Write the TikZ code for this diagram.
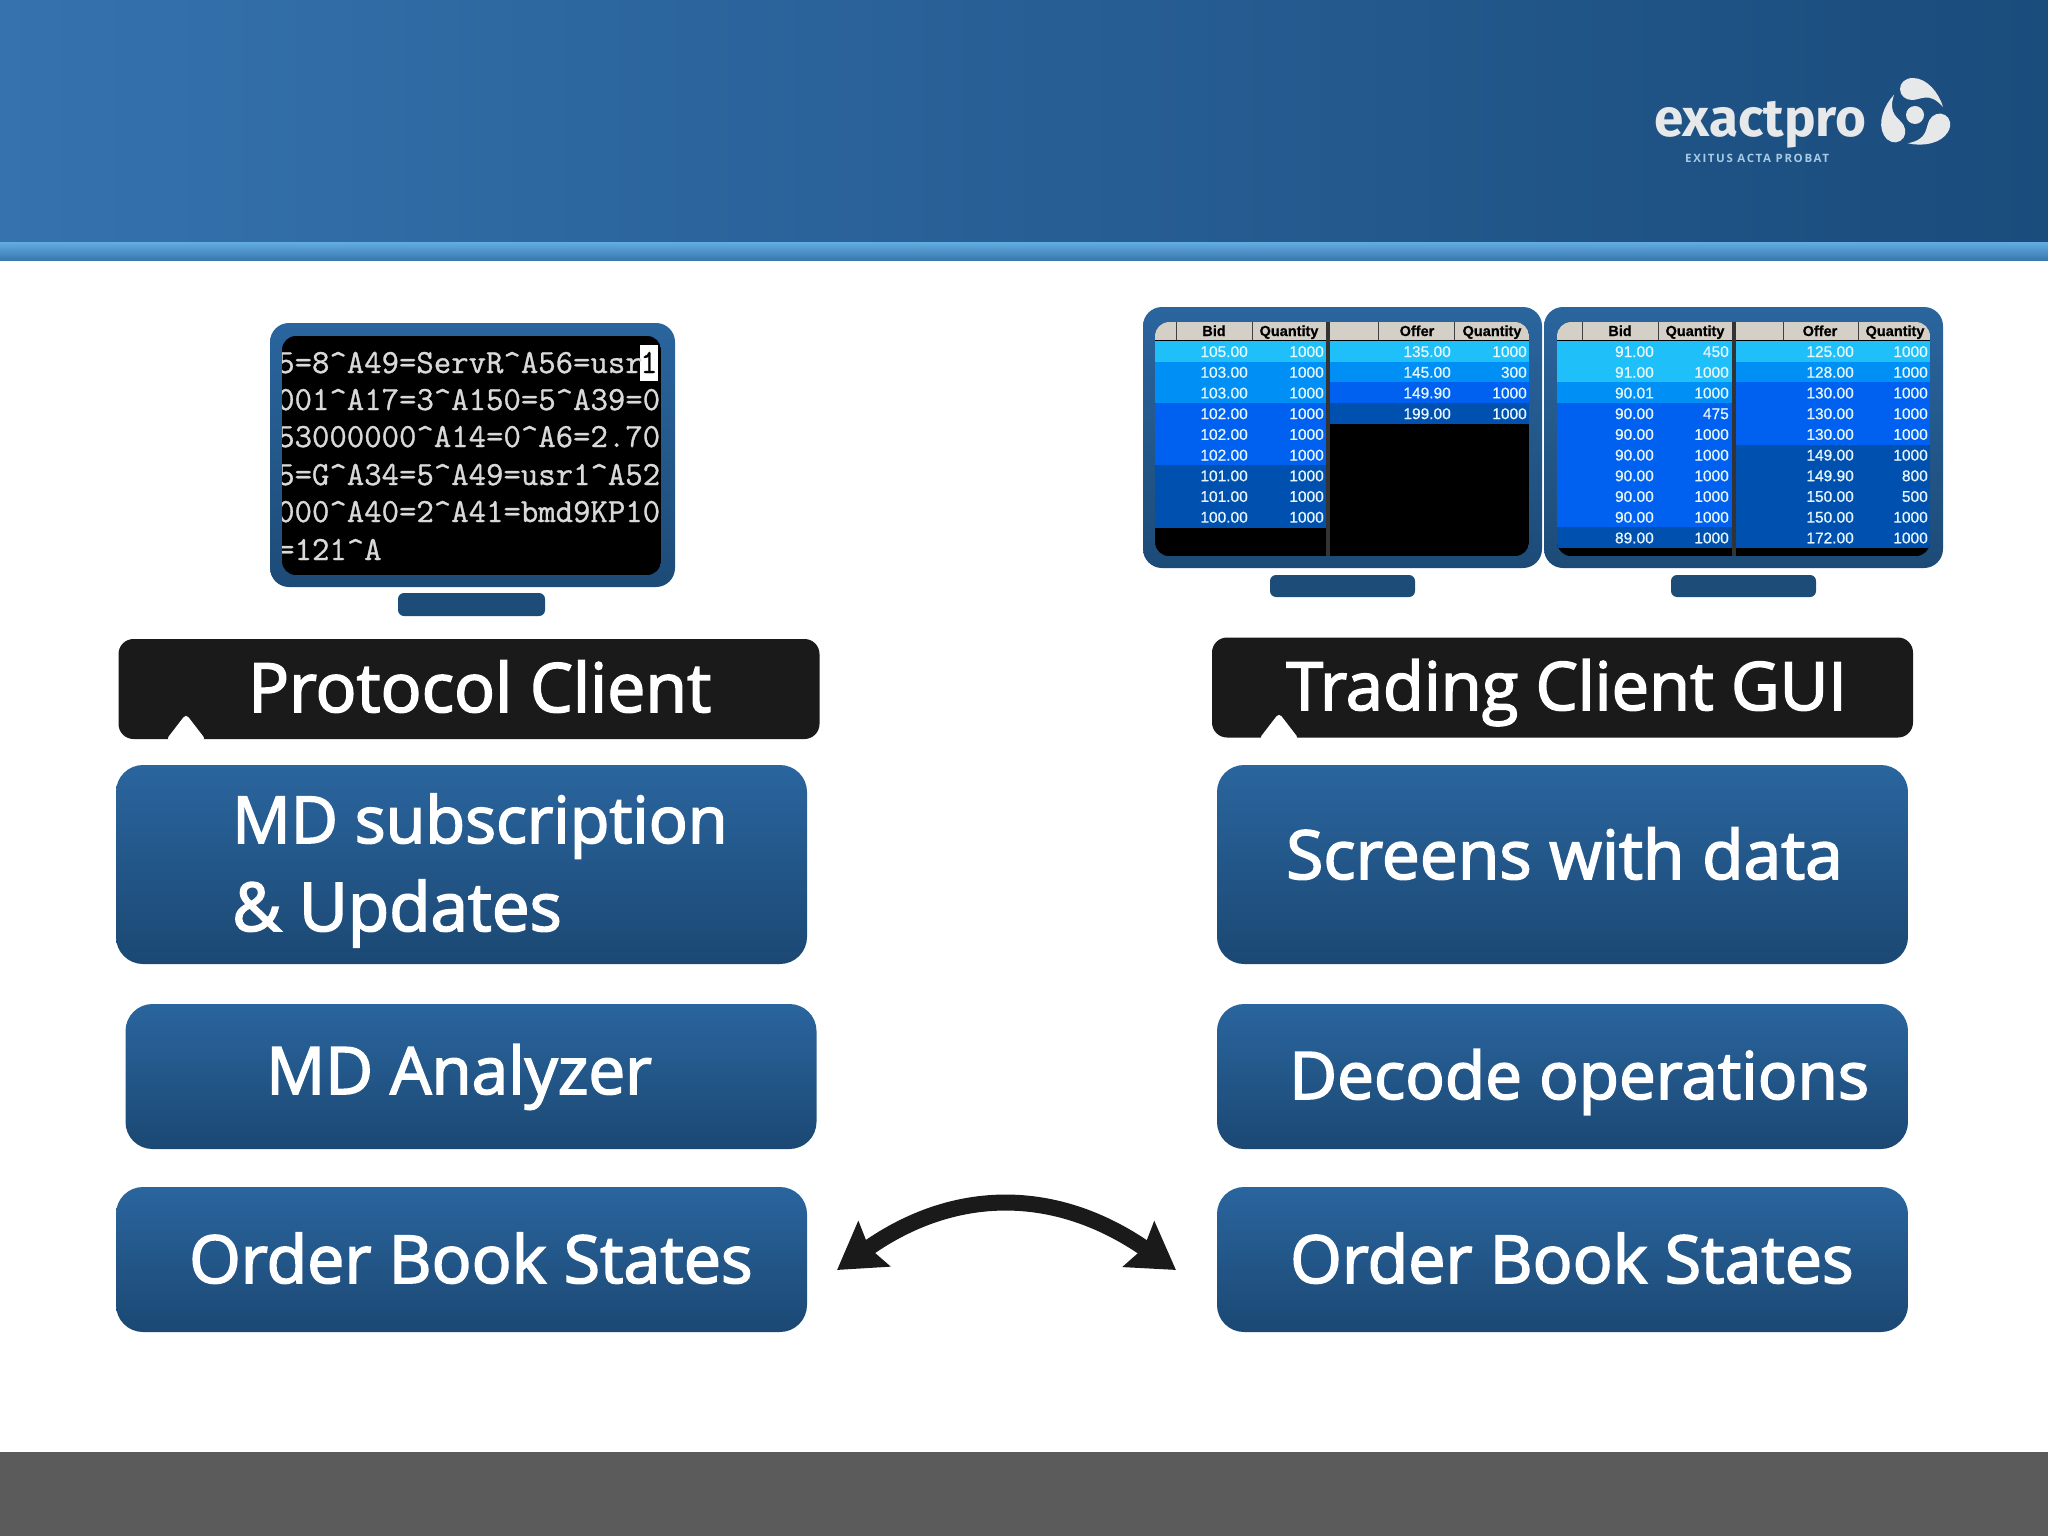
\documentclass[tikz,border=0pt]{standalone}
\usepackage{fontspec}
\usetikzlibrary{arrows.meta}
\setmainfont[FakeBold=2.4]{Open Sans}
\newfontfamily\tblfont[FakeBold=0.8]{Liberation Sans}
\newfontfamily\termfont[FakeBold=0.9]{Latin Modern Mono}
\newfontfamily\logofont{Fira Sans}
\newfontfamily\subfont[LetterSpace=14]{Open Sans}
\definecolor{cA}{HTML}{1FC0FA}
\definecolor{cB}{HTML}{0090F5}
\definecolor{cC}{HTML}{0060F0}
\definecolor{cD}{HTML}{0050B0}
\definecolor{hdr}{HTML}{D4D0C8}
\definecolor{boxtop}{HTML}{2A659E}
\definecolor{boxbot}{HTML}{1B4873}
\definecolor{bar}{HTML}{1A1A1A}
\definecolor{HeaderL}{HTML}{3572AE}
\definecolor{HeaderR}{HTML}{1A4C7C}
\definecolor{BandT}{HTML}{62ADE2}
\definecolor{BandB}{HTML}{3A78B0}
\definecolor{FooterC}{HTML}{5B5B5B}
\definecolor{LogoC}{HTML}{E6E8E9}
\definecolor{LogoSub}{HTML}{A8CBE4}
\newcommand{\fs}[1]{\fontsize{#1}{#1}\selectfont}
\tikzset{
  x=1pt,y=-1pt,
  bluebox/.style={rectangle,rounded corners=27pt,top color=boxtop,bottom color=boxbot,minimum width=691pt,inner sep=0pt,draw=none},
  barbox/.style={rectangle,rounded corners=15pt,fill=bar,minimum width=701pt,minimum height=100pt,inner sep=0pt},
  boxtext/.style={anchor=base west,inner sep=0pt,text=white},
  frame/.style={rectangle,rounded corners=19pt,top color=boxtop,bottom color=boxbot!90!boxtop,inner sep=0pt},
  standbox/.style={rectangle,rounded corners=6pt,fill=boxbot!85!boxtop,inner sep=0pt},
  cellnum/.style={anchor=base east,inner sep=0pt,text=white!90!cyan,font=\tblfont\fontsize{15.5}{15.5}\selectfont},
  cellhead/.style={anchor=base,inner sep=0pt,text=black,font=\tblfont\bfseries\fontsize{14.5}{14.5}\selectfont},
  termline/.style={anchor=base west,inner sep=0pt,text=white!85!black,font=\termfont\fontsize{33.8}{33.8}\selectfont},
  dblarrow/.style={line width=16pt,draw=bar,{Stealth[length=45pt,width=54pt,inset=6pt]}-{Stealth[length=45pt,width=54pt,inset=6pt]}},
}
% #1 name prefix, #2 xleft, #3 xright, #4 price right edge, #5 qty right edge, #6 rows
\newcommand{\paneRows}[6]{%
  \foreach \c/\p/\q [count=\i] in {#6}{%
    \pgfmathsetmacro{\yt}{341+20.7*(\i-1)}%
    \pgfmathsetmacro{\yb}{\yt+20.9}%
    \pgfmathsetmacro{\ytxt}{\yt+16}%
    \fill[\c] (#2,\yt) rectangle (#3,\yb);
    \node[cellnum,name=#1p\i] at (#4,\ytxt) {\p};
    \node[cellnum,name=#1q\i] at (#5,\ytxt) {\q};
  }%
}
\begin{document}
\begin{tikzpicture}
\useasboundingbox (0,0) rectangle (2048,1536);
\fill[white] (0,0) rectangle (2048,1536);
% header
\shade[left color=HeaderL,right color=HeaderR] (0,0) rectangle (2048,243);
\shade[top color=BandT,bottom color=BandB] (0,242) rectangle (2048,260);
% footer
\fill[FooterC] (0,1452) rectangle (2048,1536);
% logo
\node[anchor=base west,inner sep=0pt,text=LogoC,font=\logofont\bfseries\fontsize{53}{53}\selectfont] (logotext) at (1654,136) {exactpro};
\node[anchor=base west,inner sep=0pt,text=LogoSub,font=\subfont\bfseries\fontsize{11.5}{11.5}\selectfont] (logosub) at (1685,162) {EXITUS ACTA PROBAT};
\fill[LogoC] (1915,115) circle (9);
\foreach \r in {0,-120,-240}{
  \fill[LogoC,shift={(1915,115)},rotate=\r]
    (28,-8) .. controls (24,-22) and (12,-37) .. (-2,-37)
    .. controls (-10,-37) and (-15,-32) .. (-15,-26)
    .. controls (-15,-19) and (-9,-15) .. (-3,-15)
    .. controls (6,-15) and (14,-24) .. (28,-8) -- cycle;
}
% left monitor
\node[frame,minimum width=405pt,minimum height=264pt] (mon1) at (472.5,455) {};
\node[standbox,minimum width=147pt,minimum height=23pt] (stand1) at (471.5,604.5) {};
\begin{scope}
  \clip[rounded corners=14pt] (282,336) rectangle (661,575);
  \fill[black] (282,336) rectangle (661,575);
  \fill[white] (640,345) rectangle (658,381);
  \node[termline] (t1) at (277,373) {5=8\textasciicircum A49=ServR\textasciicircum A56=usr};
  \node[termline,text=black] (t1b) at (640,373) {1};
  \node[termline] (t2) at (277,410) {001\textasciicircum A17=3\textasciicircum A150=5\textasciicircum A39=0};
  \node[termline] (t3) at (277,447) {53000000\textasciicircum A14=0\textasciicircum A6=2.70};
  \node[termline] (t4) at (277,485) {5=G\textasciicircum A34=5\textasciicircum A49=usr1\textasciicircum A52};
  \node[termline] (t5) at (277,522) {000\textasciicircum A40=2\textasciicircum A41=bmd9KP10};
  \node[termline] (t6) at (277,560) {=121\textasciicircum A};
\end{scope}
% middle monitor
\node[frame,minimum width=399pt,minimum height=261pt] (mon2) at (1342.5,437.5) {};
\node[standbox,minimum width=145pt,minimum height=22pt] (stand2) at (1342.5,586) {};
\begin{scope}
  \clip[rounded corners=14pt] (1155,322) rectangle (1529,556);
  \fill[black] (1155,322) rectangle (1529,556);
  \fill[hdr] (1155,322) rectangle (1529,340);
  \draw[black!75,line width=1pt] (1176,322) -- (1176,340) (1252,322) -- (1252,340) (1378,322) -- (1378,340) (1454,322) -- (1454,340);
  \node[cellhead] (h1) at (1214,336) {Bid};
  \node[cellhead] (h2) at (1289,336) {Quantity};
  \node[cellhead] (h3) at (1417,336) {Offer};
  \node[cellhead] (h4) at (1492,336) {Quantity};
  \paneRows{ma}{1155}{1326}{1248}{1324}{cA/105.00/1000,cB/103.00/1000,cB/103.00/1000,cC/102.00/1000,cC/102.00/1000,cC/102.00/1000,cD/101.00/1000,cD/101.00/1000,cD/100.00/1000}
  \paneRows{mb}{1330}{1529}{1451}{1527}{cA/135.00/1000,cB/145.00/300,cC/149.90/1000,cD/199.00/1000}
  \fill[black!80] (1326,322) rectangle (1330,556);
\end{scope}
% right monitor
\node[frame,minimum width=399pt,minimum height=261pt] (mon3) at (1743.5,437.5) {};
\node[standbox,minimum width=145pt,minimum height=22pt] (stand3) at (1743.5,586) {};
\begin{scope}
  \clip[rounded corners=14pt] (1557,322) rectangle (1930,556);
  \fill[black] (1557,322) rectangle (1930,556);
  \fill[hdr] (1557,322) rectangle (1930,340);
  \draw[black!75,line width=1pt] (1582,322) -- (1582,340) (1658,322) -- (1658,340) (1783,322) -- (1783,340) (1858,322) -- (1858,340);
  \node[cellhead] (h5) at (1620,336) {Bid};
  \node[cellhead] (h6) at (1695,336) {Quantity};
  \node[cellhead] (h7) at (1820,336) {Offer};
  \node[cellhead] (h8) at (1895,336) {Quantity};
  \paneRows{mc}{1557}{1732}{1654}{1729}{cA/91.00/450,cA/91.00/1000,cB/90.01/1000,cC/90.00/475,cC/90.00/1000,cC/90.00/1000,cC/90.00/1000,cC/90.00/1000,cC/90.00/1000,cD/89.00/1000}
  \paneRows{md}{1736}{1930}{1854}{1928}{cA/125.00/1000,cB/128.00/1000,cC/130.00/1000,cC/130.00/1000,cC/130.00/1000,cD/149.00/1000,cD/149.90/800,cD/150.00/500,cD/150.00/1000,cD/172.00/1000}
  \fill[black!80] (1732,322) rectangle (1736,556);
\end{scope}
% black title bars
\node[barbox] (barL) at (469,689) {};
\fill[white,rounded corners=4pt] (166,740) -- (186,714) -- (206,740) -- cycle;
\node[boxtext,font=\fs{68}] (barLt) at (248,712) {Protocol Client};
\node[barbox] (barR) at (1562.5,687.5) {};
\fill[white,rounded corners=4pt] (1259,739) -- (1279,713) -- (1299,739) -- cycle;
\node[boxtext,font=\fs{66.8}] (barRt) at (1286,710) {Trading Client GUI};
% blue boxes
\node[bluebox,minimum height=199pt] (b1) at (461.5,864.5) {};
\node[bluebox,minimum height=145pt] (b2) at (471,1076.5) {};
\node[bluebox,minimum height=145pt] (b3) at (461.5,1259.5) {};
\node[bluebox,minimum height=199pt] (r1) at (1562.5,864.5) {};
\node[bluebox,minimum height=145pt] (r2) at (1562.5,1076.5) {};
\node[bluebox,minimum height=145pt] (r3) at (1562.5,1259.5) {};
\node[boxtext,font=\fs{64.8}] (b1a) at (232,843) {MD subscription};
\node[boxtext,font=\fs{67.4}] (b1b) at (232,931) {\&\ Updates};
\node[boxtext,font=\fs{65.5}] (b2t) at (266,1094) {MD Analyzer};
\node[boxtext,font=\fs{66.3}] (b3t) at (189,1283) {Order Book States};
\node[boxtext,font=\fs{67.7}] (r1t) at (1286,879) {Screens with data};
\node[boxtext,font=\fs{65.7}] (r2t) at (1289,1099) {Decode operations};
\node[boxtext,font=\fs{66.3}] (r3t) at (1290,1283) {Order Book States};
% connector
\coordinate (arrL) at (837,1270);
\coordinate (arrR) at (1176,1270);
\draw[dblarrow] (arrL) .. controls (955,1187) and (1056,1187) .. (arrR);
\end{tikzpicture}
\end{document}
